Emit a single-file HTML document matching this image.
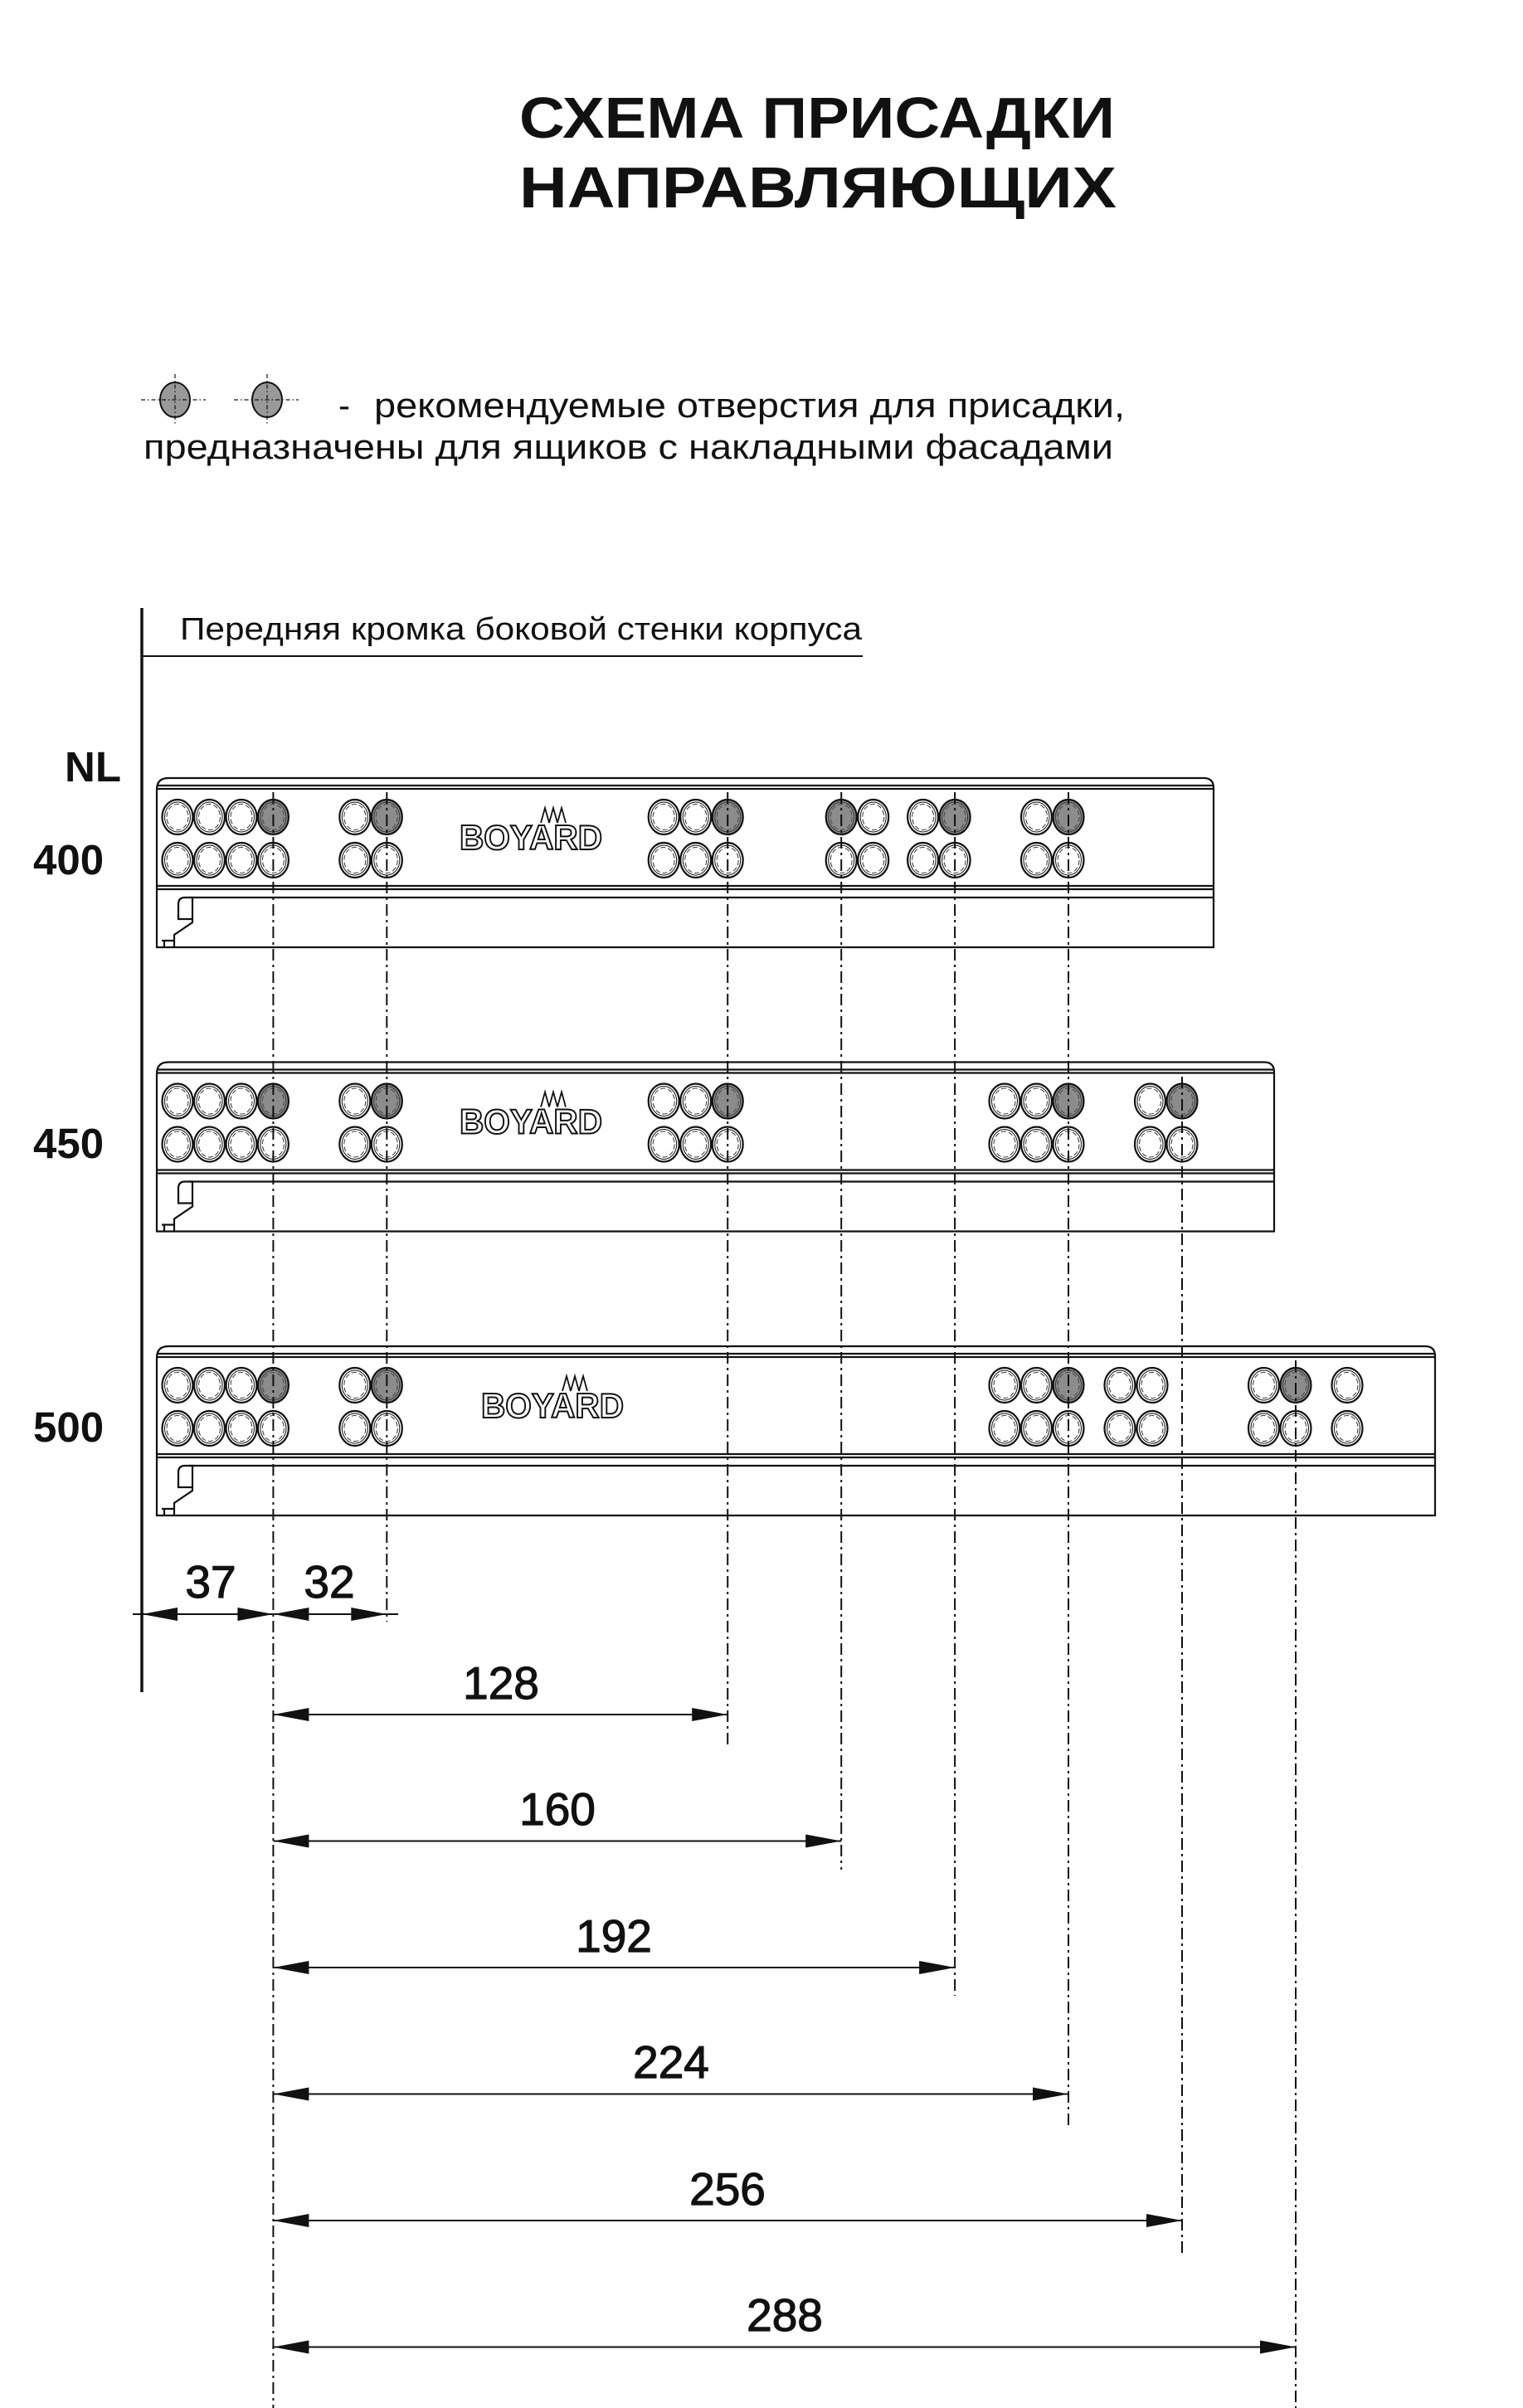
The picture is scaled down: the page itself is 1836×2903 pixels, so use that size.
<!DOCTYPE html>
<html><head><meta charset="utf-8"><style>html,body{margin:0;padding:0;background:#fff}svg{display:block}</style></head>
<body>
<svg xmlns="http://www.w3.org/2000/svg" xmlns:xlink="http://www.w3.org/1999/xlink" width="1836" height="2903" viewBox="0 0 1836 2903">
<defs>
<g id="w"><ellipse rx="18.5" ry="21" fill="#fff" stroke="#111" stroke-width="2.2"/><ellipse rx="15.5" ry="18" fill="none" stroke="#111" stroke-width="1"/><ellipse rx="13" ry="15.5" fill="none" stroke="#333" stroke-width="1" stroke-dasharray="6 3"/></g>
<g id="g"><ellipse rx="18.5" ry="21" fill="#8c8c8c" stroke="#111" stroke-width="2.2"/><ellipse rx="15.5" ry="18" fill="none" stroke="#333" stroke-width="1"/><ellipse rx="13" ry="15.5" fill="none" stroke="#444" stroke-width="1" stroke-dasharray="6 3"/></g>
<g id="logo"><text x="0" y="0" font-family="Liberation Sans, sans-serif" font-weight="bold" font-size="42" fill="#fff" stroke="#111" stroke-width="2" textLength="172" lengthAdjust="spacingAndGlyphs">BOYARD</text><path d="M98,-32 l5,-18 l5,18 M108,-32 l5,-18 l5,18 M118,-32 l5,-18 l5,18" fill="none" stroke="#111" stroke-width="1.8"/></g>
</defs>

<g font-family="Liberation Sans, sans-serif" font-weight="bold" fill="#111">
<text x="626" y="166" font-size="70" textLength="718" lengthAdjust="spacingAndGlyphs">СХЕМА ПРИСАДКИ</text>
<text x="626" y="250" font-size="70" textLength="720" lengthAdjust="spacingAndGlyphs">НАПРАВЛЯЮЩИХ</text>
</g>

<g stroke="#111">
<ellipse cx="211" cy="482" rx="18" ry="21" fill="#999" stroke-width="2"/>
<ellipse cx="322" cy="482" rx="18" ry="21" fill="#999" stroke-width="2"/>
<path d="M211,451 V513 M170,482 H248 M322,451 V513 M282,482 H360" stroke-width="1.2" stroke-dasharray="5 3 1.5 3" fill="none"/>
</g>
<g font-family="Liberation Sans, sans-serif" fill="#111" font-size="42">
<text x="408" y="503">-</text>
<text x="451" y="503" textLength="905" lengthAdjust="spacingAndGlyphs">рекомендуемые отверстия для присадки,</text>
<text x="173" y="553" textLength="1169" lengthAdjust="spacingAndGlyphs">предназначены для ящиков с накладными фасадами</text>
</g>

<line x1="171" y1="733" x2="171" y2="2040" stroke="#111" stroke-width="3.5"/>
<text x="217" y="771" font-family="Liberation Sans, sans-serif" font-size="38" fill="#111" textLength="822" lengthAdjust="spacingAndGlyphs">Передняя кромка боковой стенки корпуса</text>
<line x1="171" y1="791" x2="1040" y2="791" stroke="#111" stroke-width="2"/>

<g font-family="Liberation Sans, sans-serif" font-weight="bold" font-size="51" fill="#111">
<text x="78" y="942">NL</text>
<text x="40" y="1054">400</text>
<text x="40" y="1396">450</text>
<text x="40" y="1738">500</text>
</g>

<g fill="none" stroke="#111" stroke-width="2.2">
<path d="M189,1142 V952 Q189,938 203,938 H1451 Q1463,938 1463,950 V1142 Z"/>
<path d="M189,947 H1463 M189,951 H1463 M189,1068 H1463 M189,1072 H1463 M228,1082 H1463"/>
<path d="M215,1108 V1090 Q215,1082 223,1082 H232 V1108 Z M232,1108 V1112 L210,1127 V1142 M195,1134 H210 M198,1134 V1142"/>

<path d="M189,1484.5 V1294.5 Q189,1280.5 203,1280.5 H1524 Q1536,1280.5 1536,1292.5 V1484.5 Z"/>
<path d="M189,1289.5 H1536 M189,1293.5 H1536 M189,1410.5 H1536 M189,1414.5 H1536 M228,1424.5 H1536"/>
<path d="M215,1450.5 V1432.5 Q215,1424.5 223,1424.5 H232 V1450.5 Z M232,1450.5 V1454.5 L210,1469.5 V1484.5 M195,1476.5 H210 M198,1476.5 V1484.5"/>

<path d="M189,1827 V1637 Q189,1623 203,1623 H1718 Q1730,1623 1730,1635 V1827 Z"/>
<path d="M189,1632 H1730 M189,1636 H1730 M189,1753 H1730 M189,1757 H1730 M228,1767 H1730"/>
<path d="M215,1793 V1775 Q215,1767 223,1767 H232 V1793 Z M232,1793 V1797 L210,1812 V1827 M195,1819 H210 M198,1819 V1827"/>
</g>

<use xlink:href="#logo" x="554" y="1024"/>
<use xlink:href="#logo" x="554" y="1366.5"/>
<use xlink:href="#logo" x="580" y="1709"/>

<use xlink:href="#w" x="214" y="985"/><use xlink:href="#w" x="252.5" y="985"/><use xlink:href="#w" x="291" y="985"/><use xlink:href="#g" x="329.4" y="985"/>
<use xlink:href="#w" x="427.8" y="985"/><use xlink:href="#g" x="466.3" y="985"/>
<use xlink:href="#w" x="800.2" y="985"/><use xlink:href="#w" x="838.7" y="985"/><use xlink:href="#g" x="877.2" y="985"/>
<use xlink:href="#g" x="1014.2" y="985"/><use xlink:href="#w" x="1052.7" y="985"/>
<use xlink:href="#w" x="1112.6" y="985"/><use xlink:href="#g" x="1151.1" y="985"/>
<use xlink:href="#w" x="1249.5" y="985"/><use xlink:href="#g" x="1288" y="985"/>
<use xlink:href="#w" x="214" y="1037"/><use xlink:href="#w" x="252.5" y="1037"/><use xlink:href="#w" x="291" y="1037"/><use xlink:href="#w" x="329.4" y="1037"/>
<use xlink:href="#w" x="427.8" y="1037"/><use xlink:href="#w" x="466.3" y="1037"/>
<use xlink:href="#w" x="800.2" y="1037"/><use xlink:href="#w" x="838.7" y="1037"/><use xlink:href="#w" x="877.2" y="1037"/>
<use xlink:href="#w" x="1014.2" y="1037"/><use xlink:href="#w" x="1052.7" y="1037"/>
<use xlink:href="#w" x="1112.6" y="1037"/><use xlink:href="#w" x="1151.1" y="1037"/>
<use xlink:href="#w" x="1249.5" y="1037"/><use xlink:href="#w" x="1288" y="1037"/>

<use xlink:href="#w" x="214" y="1327.5"/><use xlink:href="#w" x="252.5" y="1327.5"/><use xlink:href="#w" x="291" y="1327.5"/><use xlink:href="#g" x="329.4" y="1327.5"/>
<use xlink:href="#w" x="427.8" y="1327.5"/><use xlink:href="#g" x="466.3" y="1327.5"/>
<use xlink:href="#w" x="800.2" y="1327.5"/><use xlink:href="#w" x="838.7" y="1327.5"/><use xlink:href="#g" x="877.2" y="1327.5"/>
<use xlink:href="#w" x="1211" y="1327.5"/><use xlink:href="#w" x="1249.5" y="1327.5"/><use xlink:href="#g" x="1288" y="1327.5"/>
<use xlink:href="#w" x="1386.5" y="1327.5"/><use xlink:href="#g" x="1425" y="1327.5"/>
<use xlink:href="#w" x="214" y="1379.5"/><use xlink:href="#w" x="252.5" y="1379.5"/><use xlink:href="#w" x="291" y="1379.5"/><use xlink:href="#w" x="329.4" y="1379.5"/>
<use xlink:href="#w" x="427.8" y="1379.5"/><use xlink:href="#w" x="466.3" y="1379.5"/>
<use xlink:href="#w" x="800.2" y="1379.5"/><use xlink:href="#w" x="838.7" y="1379.5"/><use xlink:href="#w" x="877.2" y="1379.5"/>
<use xlink:href="#w" x="1211" y="1379.5"/><use xlink:href="#w" x="1249.5" y="1379.5"/><use xlink:href="#w" x="1288" y="1379.5"/>
<use xlink:href="#w" x="1386.5" y="1379.5"/><use xlink:href="#w" x="1425" y="1379.5"/>

<use xlink:href="#w" x="214" y="1670"/><use xlink:href="#w" x="252.5" y="1670"/><use xlink:href="#w" x="291" y="1670"/><use xlink:href="#g" x="329.4" y="1670"/>
<use xlink:href="#w" x="427.8" y="1670"/><use xlink:href="#g" x="466.3" y="1670"/>
<use xlink:href="#w" x="1211" y="1670"/><use xlink:href="#w" x="1249.5" y="1670"/><use xlink:href="#g" x="1288" y="1670"/>
<use xlink:href="#w" x="1350" y="1670"/><use xlink:href="#w" x="1389" y="1670"/>
<use xlink:href="#w" x="1523.5" y="1670"/><use xlink:href="#g" x="1562" y="1670"/><use xlink:href="#w" x="1624" y="1670"/>
<use xlink:href="#w" x="214" y="1722"/><use xlink:href="#w" x="252.5" y="1722"/><use xlink:href="#w" x="291" y="1722"/><use xlink:href="#w" x="329.4" y="1722"/>
<use xlink:href="#w" x="427.8" y="1722"/><use xlink:href="#w" x="466.3" y="1722"/>
<use xlink:href="#w" x="1211" y="1722"/><use xlink:href="#w" x="1249.5" y="1722"/><use xlink:href="#w" x="1288" y="1722"/>
<use xlink:href="#w" x="1350" y="1722"/><use xlink:href="#w" x="1389" y="1722"/>
<use xlink:href="#w" x="1523.5" y="1722"/><use xlink:href="#w" x="1562" y="1722"/><use xlink:href="#w" x="1624" y="1722"/>

<g stroke="#111" stroke-width="2" stroke-dasharray="14 5 3 5" fill="none">
<line x1="329.4" y1="955" x2="329.4" y2="2903"/>
<line x1="466.3" y1="955" x2="466.3" y2="1955"/>
<line x1="877.2" y1="955" x2="877.2" y2="2105"/>
<line x1="1014.2" y1="955" x2="1014.2" y2="2254"/>
<line x1="1151.1" y1="955" x2="1151.1" y2="2406"/>
<line x1="1288" y1="955" x2="1288" y2="2565"/>
<line x1="1425" y1="1298" x2="1425" y2="2721"/>
<line x1="1562" y1="1640" x2="1562" y2="2903"/>
</g>

<g stroke="#111" stroke-width="2">
<line x1="160" y1="1946" x2="480" y2="1946"/>
<line x1="329.4" y1="2067" x2="877.2" y2="2067"/>
<line x1="329.4" y1="2219.5" x2="1014.2" y2="2219.5"/>
<line x1="329.4" y1="2372" x2="1151.1" y2="2372"/>
<line x1="329.4" y1="2524.5" x2="1288" y2="2524.5"/>
<line x1="329.4" y1="2677" x2="1425" y2="2677"/>
<line x1="329.4" y1="2829.5" x2="1562" y2="2829.5"/>
</g>
<g fill="#111">
<polygon points="171,1946 214,1938 214,1954"/><polygon points="329.4,1946 286.4,1938 286.4,1954"/>
<polygon points="329.4,1946 372.4,1938 372.4,1954"/><polygon points="466.3,1946 423.3,1938 423.3,1954"/>
<polygon points="329.4,2067 372.4,2059 372.4,2075"/><polygon points="877.2,2067 834.2,2059 834.2,2075"/>
<polygon points="329.4,2219.5 372.4,2211.5 372.4,2227.5"/><polygon points="1014.2,2219.5 971.2,2211.5 971.2,2227.5"/>
<polygon points="329.4,2372 372.4,2364 372.4,2380"/><polygon points="1151.1,2372 1108.1,2364 1108.1,2380"/>
<polygon points="329.4,2524.5 372.4,2516.5 372.4,2532.5"/><polygon points="1288,2524.5 1245,2516.5 1245,2532.5"/>
<polygon points="329.4,2677 372.4,2669 372.4,2685"/><polygon points="1425,2677 1382,2669 1382,2685"/>
<polygon points="329.4,2829.5 372.4,2821.5 372.4,2837.5"/><polygon points="1562,2829.5 1519,2821.5 1519,2837.5"/>
</g>
<g font-family="Liberation Sans, sans-serif" font-size="55" fill="#111" stroke="#111" stroke-width="1.2" text-anchor="middle">
<text x="254" y="1926">37</text>
<text x="397" y="1926">32</text>
<text x="604" y="2048">128</text>
<text x="672" y="2200">160</text>
<text x="740" y="2353">192</text>
<text x="809" y="2505">224</text>
<text x="877" y="2658">256</text>
<text x="946" y="2810">288</text>
</g>
</svg>
</body></html>
